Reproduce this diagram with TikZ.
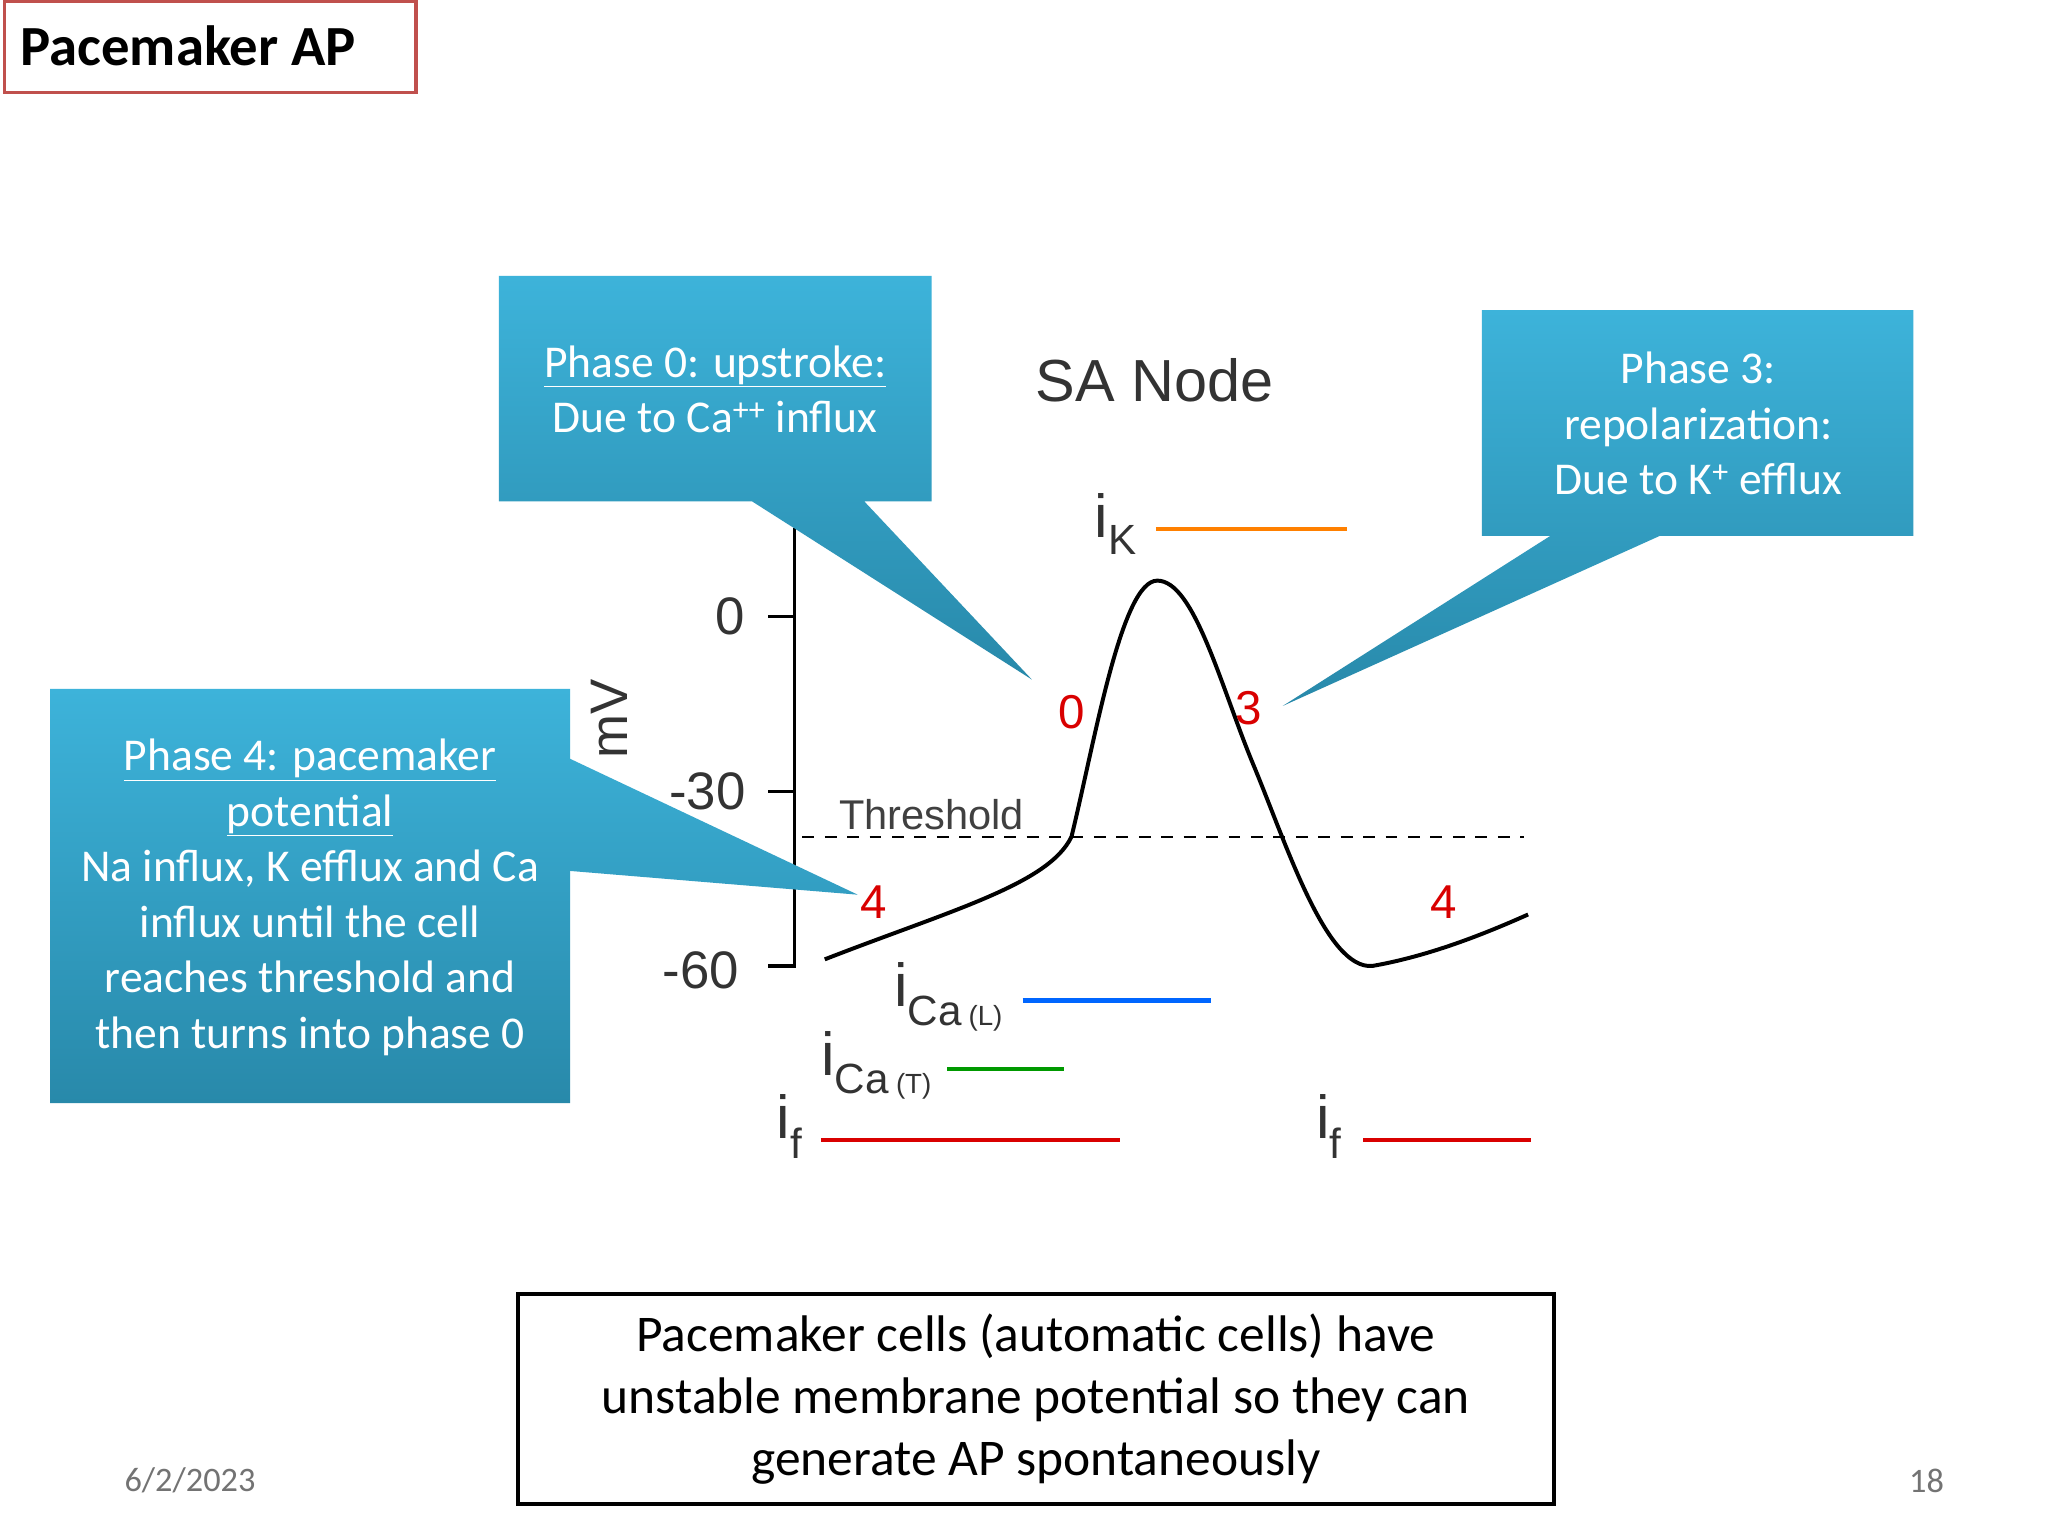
\documentclass[tikz,border=0pt]{standalone}
\usepackage{fontspec}
\setmainfont{Carlito}
\newfontfamily\arialf{Liberation Sans}
\usetikzlibrary{calc}
\definecolor{callt}{HTML}{3DB3DA}
\definecolor{callb}{HTML}{2889AA}
\definecolor{ttlred}{HTML}{C0504D}
\tikzset{
 call/.style={top color=callt,bottom color=callb,draw=none},
 ctext/.style={text=white,align=center,font=\fontsize{34.5}{42}\selectfont},
 lab/.style={font=\arialf\fontsize{40}{40}\selectfont,text=black!80},
 red4/.style={font=\arialf\fontsize{36}{36}\selectfont,text=red!85!black},
 cur/.style={line width=3.5pt},
}
\begin{document}
\begin{tikzpicture}[x=1pt,y=-1pt]
\useasboundingbox (0,0) rectangle (1552,1164);
\fill[white] (0,0) rectangle (1552,1164);
% title
\node[draw=ttlred,line width=2.5pt,minimum width=312,minimum height=69,anchor=north west,inner sep=0] (title) at (2,0) {};
\node[font=\bfseries\fontsize{43}{46}\selectfont,anchor=west] (tt) at (12,35) {Pacemaker AP};
% axis
\draw[line width=2.5pt] (602,400) -- (602,732) -- (582,732);
\draw[line width=2pt] (582,467) -- (602,467) (582,600) -- (602,600);
\node[lab] (l0) at (553,467) {0};
\node[lab] (l30) at (536,600) {-30};
\node[lab] (l60) at (531,735) {-60};
\node[lab,rotate=90] (mv) at (462,545) {mV};
\draw[dashed,line width=1.5pt,dash pattern=on 9pt off 8pt] (608,634) -- (1155,634);
\node[font=\arialf\fontsize{31.5}{32}\selectfont,text=black!75] (thr) at (706,617) {Threshold};
\node[lab,font=\arialf\fontsize{45}{46}\selectfont] (sa) at (875,288) {SA Node};
% curve
\draw[line width=3pt] (625,727) .. controls (720,690) and (795,670) .. (812,634)
 .. controls (830,560) and (850,440) .. (877,440)
 .. controls (905,440) and (925,520) .. (950,580)
 .. controls (975,640) and (1005,735) .. (1040,732)
 .. controls (1080,725) and (1120,710) .. (1158,693);
\node[red4] (p0) at (812,540) {0};
\node[red4] (p3) at (946,537) {3};
\node[red4] (p4a) at (662,684) {4};
\node[red4] (p4b) at (1094,684) {4};
% currents
\node[lab,anchor=base west,font=\arialf\fontsize{46}{46}\selectfont] (ik) at (826,407) {i\textsubscript{\fontsize{32}{32}\selectfont K}};
\draw[cur,orange] (876,401) -- (1021,401);
\node[lab,anchor=base west,font=\arialf\fontsize{46}{46}\selectfont] (ical) at (674,763) {i\textsubscript{\fontsize{32}{32}\selectfont Ca\,\fontsize{21}{21}\selectfont(L)}};
\draw[cur,blue!60!cyan] (775,758) -- (918,758);
\node[lab,anchor=base west,font=\arialf\fontsize{46}{46}\selectfont] (icat) at (619,815) {i\textsubscript{\fontsize{32}{32}\selectfont Ca\,\fontsize{21}{21}\selectfont(T)}};
\draw[cur,green!60!black] (718,810) -- (806,810);
\node[lab,anchor=base west,font=\arialf\fontsize{46}{46}\selectfont] (if1) at (585,863) {i\textsubscript{\fontsize{32}{32}\selectfont f}};
\draw[cur,red!85!black] (622,864) -- (849,864);
\node[lab,anchor=base west,font=\arialf\fontsize{46}{46}\selectfont] (if2) at (994,863) {i\textsubscript{\fontsize{32}{32}\selectfont f}};
\draw[cur,red!85!black] (1033,864) -- (1160,864);
% callouts
\shade[call] (378,209) -- (706,209) -- (706,380) -- (655,380) -- (782,515) -- (570,380) -- (378,380) -- cycle;
\node[ctext] (c0) at (542,295) {\underline{Phase 0: upstroke:}\\Due to Ca\textsuperscript{++} influx};
\shade[call] (1123,235) -- (1450,235) -- (1450,406) -- (1258,406) -- (972,535) -- (1175,406) -- (1123,406) -- cycle;
\node[ctext] (c3) at (1287,321) {Phase 3:\\repolarization:\\Due to K\textsuperscript{+} efflux};
\shade[call] (38,522) -- (432,522) -- (432,575) -- (650,678) -- (432,660) -- (432,836) -- (38,836) -- cycle;
\node[ctext] (c4) at (235,680) {\underline{Phase 4: pacemaker}\\\underline{potential}\\Na influx, K efflux and Ca\\influx until the cell\\reaches threshold and\\then turns into phase 0};
% bottom box
\node[draw,line width=3pt,minimum width=785,minimum height=159,anchor=north west,inner sep=0] (bb) at (391,979) {};
\node[align=center,font=\fontsize{39}{47}\selectfont] (bt) at (bb.center) {Pacemaker cells (automatic cells) have\\unstable membrane potential so they can\\generate AP spontaneously};
\node[text=black!55,font=\fontsize{26}{28}\selectfont] (date) at (144,1122) {6/2/2023};
\node[text=black!55,font=\fontsize{26}{28}\selectfont] (pg) at (1460,1122) {18};
\end{tikzpicture}
\end{document}
